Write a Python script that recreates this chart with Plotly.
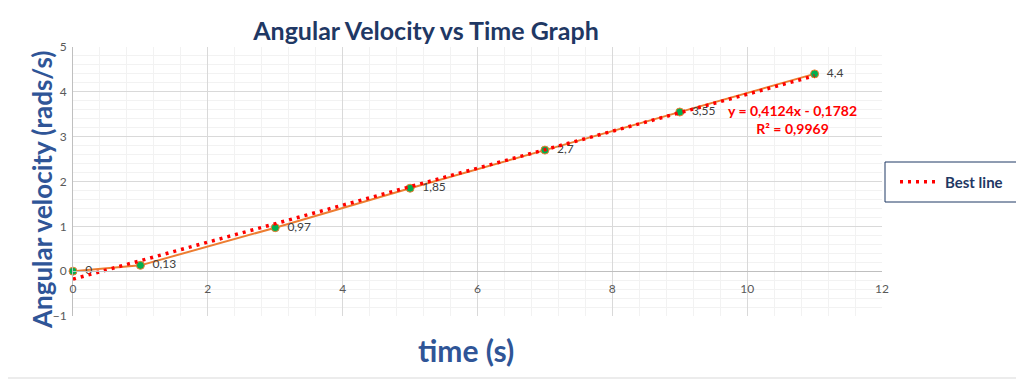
import numpy as np
import plotly.graph_objects as go

time_s = [0, 1, 3, 5, 7, 9, 11]
ang_vel = [0, 0.13, 0.97, 1.85, 2.7, 3.55, 4.4]
point_labels = ["0", "0,13", "0,97", "1,85", "2,7", "3,55", "4,4"]

slope, intercept = np.polyfit(time_s, ang_vel, 1)
fit_x = [time_s[0], time_s[-1]]
fit_y = [slope * x + intercept for x in fit_x]
r2 = np.corrcoef(time_s, ang_vel)[0, 1] ** 2

def fmt(v, d):
    return f"{v:.{d}f}".replace(".", ",")

eq_text = f"<b>y = {fmt(slope,4)}x - {fmt(abs(intercept),4)}<br>R² = {fmt(r2,4)}</b>"

FONT = "Lato, Calibri, 'Open Sans', sans-serif"
NAVY = "#1F3864"
BLUE = "#2F5597"

# page body has an 8px margin; compensate so the picture lands like the reference
OFF = 8
W, H = 1024 - OFF, 380 - OFF
PL, PR, PT, PB = 73 - OFF, 882 - OFF, 47 - OFF, 316 - OFF
PW, PH = PR - PL, PB - PT

def px(xp):
    return (xp - 73) / PW

def py(yp):
    return (316 - yp) / PH

fig = go.Figure()
fig.add_trace(go.Scatter(
    x=time_s, y=ang_vel, mode="lines+markers+text",
    text=point_labels, textposition="middle right",
    texttemplate="\u00a0\u00a0%{text}",
    textfont=dict(size=12, color="#404040", family=FONT),
    line=dict(color="#ED7D31", width=2),
    marker=dict(color="#00B050", size=8, line=dict(color="#ED7D31", width=1)),
    showlegend=False, cliponaxis=False,
))
fig.add_trace(go.Scatter(
    x=fit_x, y=fit_y, mode="lines", name="<b>Best line</b>", xaxis="x2",
    line=dict(color="#FF0000", width=3.5, dash="3px,5px"),
))

fig.update_layout(
    width=W, height=H,
    margin=dict(l=PL, r=W - PR, t=PT, b=H - PB, autoexpand=False),
    paper_bgcolor="white", plot_bgcolor="white",
    font=dict(family=FONT, color="#595959"),
    title=dict(text="<b>Angular Velocity vs Time Graph</b>", x=(426 - OFF) / W, xanchor="center",
               y=1 - (31 - OFF) / H, yanchor="middle", yref="container", xref="container",
               font=dict(size=25, color=NAVY, family=FONT)),
    legend=dict(x=px(895), xanchor="left", y=py(182), yanchor="middle",
                borderwidth=0, bgcolor="rgba(0,0,0,0)", itemwidth=40,
                font=dict(size=15, color=NAVY, family=FONT)),
    shapes=[
        dict(type="rect", xref="paper", yref="paper",
             x0=px(0.5), x1=px(1022), y0=py(378), y1=py(0.5),
             line=dict(color="#D9D9D9", width=1), layer="below"),
        dict(type="rect", xref="paper", yref="paper",
             x0=px(885), x1=px(1017), y0=py(202), y1=py(162),
             line=dict(color=NAVY, width=1), fillcolor="white", layer="below"),
        # hide the few pixels of gridline that poke out under the plot area
        dict(type="rect", xref="paper", yref="paper",
             x0=px(74), x1=px(884), y0=py(330), y1=py(316.7),
             line=dict(width=0), fillcolor="white", layer="above"),
    ],
    xaxis=dict(
        range=[0, 12], dtick=0.4, tick0=0,
        showgrid=True, gridcolor="#F2F2F2", gridwidth=1,
        showline=False, zeroline=False, showticklabels=False, ticks="",
    ),
    xaxis2=dict(
        range=[0, 12], dtick=2, tick0=0, overlaying="x", anchor="free", position=1 / 6,
        showgrid=True, gridcolor="#D9D9D9", gridwidth=1,
        showline=True, linecolor="#BFBFBF", zeroline=False,
        tickfont=dict(size=12, color="#595959"), ticks="", ticklabelstandoff=6,
    ),
    yaxis=dict(
        range=[-1, 5], dtick=1, tick0=0,
        showgrid=True, gridcolor="#D9D9D9", gridwidth=1,
        minor=dict(dtick=0.2, showgrid=True, gridcolor="#F2F2F2"),
        showline=True, linecolor="#BFBFBF", zeroline=False,
        tickfont=dict(size=12, color="#595959"), ticks="", ticklabelstandoff=3,
    ),
)
fig.add_annotation(text=eq_text, xref="x", yref="y", x=10.665, y=3.39,
                   xanchor="center", yanchor="middle", align="center", showarrow=False,
                   font=dict(size=14, color="#FF0000", family=FONT))
fig.add_annotation(text="<b>Angular velocity (rads/s)</b>", xref="paper", yref="paper",
                   x=px(42), y=py(190), textangle=-90, showarrow=False,
                   xanchor="center", yanchor="middle",
                   font=dict(size=26, color=BLUE, family=FONT))
fig.add_annotation(text="<b>time (s)</b>", xref="paper", yref="paper",
                   x=px(466), y=py(350), showarrow=False,
                   xanchor="center", yanchor="middle",
                   font=dict(size=30, color=BLUE, family=FONT))
fig.write_html("out.html")
